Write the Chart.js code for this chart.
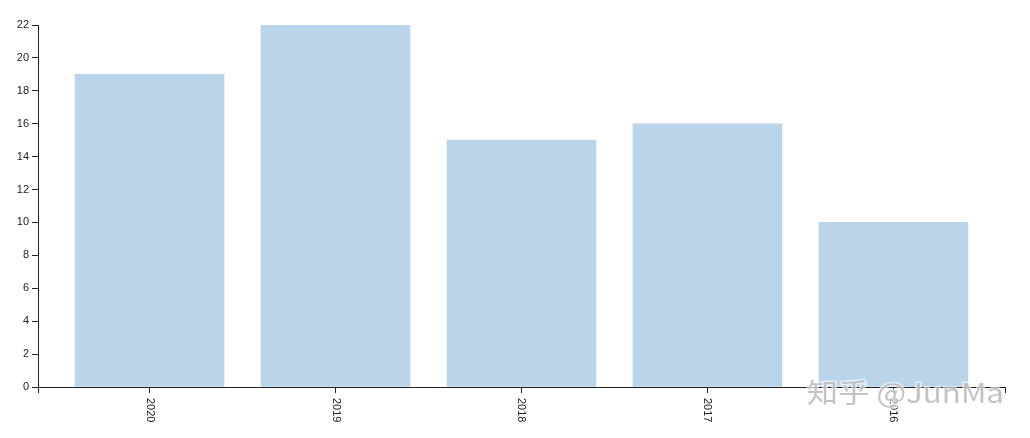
<!DOCTYPE html>
<html>
<head>
<meta charset="utf-8">
<script src="https://cdn.jsdelivr.net/npm/chart.js@4/dist/chart.umd.min.js"></script>
<style>
html,body{margin:0;padding:0;background:#fff;}
#wrap{width:1030px;height:438px;position:relative;}
</style>
</head>
<body>
<div id="wrap"><canvas id="c" width="1030" height="438"></canvas></div>
<script>
const categories = ["2020", "2019", "2018", "2017", "2016"];
const values = [19, 22, 15, 16, 10];
const yTicks = [0, 2, 4, 6, 8, 10, 12, 14, 16, 18, 20, 22];
const watermark = "知乎 @JunMa";

const FONT = "'Liberation Sans', Arial, sans-serif";
const AXIS = "#222";

const rotatedLabels = {
  id: 'rotatedLabels',
  afterDraw(chart) {
    const ctx = chart.ctx;
    const xs = chart.scales.x;
    const bottom = chart.chartArea.bottom;
    ctx.save();
    ctx.font = "11px " + FONT;
    ctx.fillStyle = "#222";
    ctx.textAlign = 'left';
    ctx.textBaseline = 'middle';
    categories.forEach((c, i) => {
      const px = xs.getPixelForValue(i);
      ctx.save();
      ctx.translate(px, bottom + 11);
      ctx.rotate(Math.PI / 2);
      ctx.fillText(c, 0, 0);
      ctx.restore();
    });
    // watermark
    ctx.save();
    ctx.translate(1004, 403);
    ctx.scale(1.16, 1);
    ctx.font = "27px 'Noto Sans CJK SC', 'Noto Sans', sans-serif";
    ctx.textAlign = 'right';
    ctx.textBaseline = 'alphabetic';
    ctx.lineWidth = 3;
    ctx.strokeStyle = 'rgba(255,255,255,0.6)';
    ctx.strokeText(watermark, 0, 0);
    ctx.fillStyle = 'rgba(185,185,185,0.85)';
    ctx.fillText(watermark, 0, 0);
    ctx.restore();
    ctx.restore();
  }
};

new Chart(document.getElementById('c'), {
  type: 'bar',
  data: {
    datasets: [{
      data: categories.map((c, i) => ({ x: i, y: values[i] })),
      backgroundColor: 'rgb(186,212,234)',
      borderWidth: 0,
      barThickness: 149
    }]
  },
  options: {
    responsive: false,
    animation: false,
    events: [],
    layout: { padding: { left: 0, right: 25, top: 25, bottom: 0 } },
    plugins: { legend: { display: false }, tooltip: { enabled: false } },
    scales: {
      x: {
        type: 'linear',
        offset: false,
        min: -0.6,
        max: categories.length - 0.4,
        afterBuildTicks(scale) {
          const t = [{ value: scale.min }];
          categories.forEach((c, i) => t.push({ value: i }));
          t.push({ value: scale.max });
          scale.ticks = t;
        },
        afterFit(scale) { scale.height = 51; },
        ticks: { display: false },
        grid: { offset: false, drawOnChartArea: false, drawTicks: true, tickLength: 6, color: AXIS, lineWidth: 1 },
        border: { display: true, color: AXIS, width: 1 }
      },
      y: {
        min: 0,
        max: 22,
        afterBuildTicks(scale) { scale.ticks = yTicks.map(v => ({ value: v })); },
        afterFit(scale) { scale.width = 38; },
        ticks: { color: '#222', font: { size: 11, family: FONT }, padding: 3 },
        grid: { drawOnChartArea: false, drawTicks: true, tickLength: 6, color: AXIS, lineWidth: 1 },
        border: { display: true, color: AXIS, width: 1 }
      }
    }
  },
  plugins: [rotatedLabels]
});
</script>
</body>
</html>
